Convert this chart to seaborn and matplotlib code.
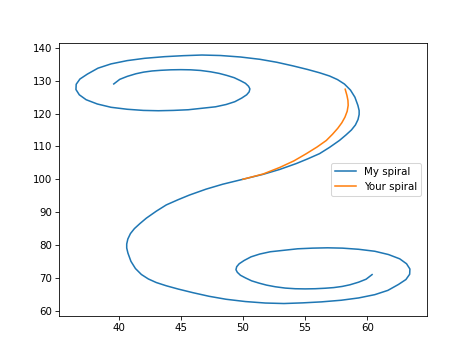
import matplotlib
matplotlib.use("Agg")
import matplotlib.pyplot as plt
import seaborn as sns
import pandas as pd

# "My spiral" points, from the upper inner end to the lower inner end
my_x = [39.62, 40.10, 40.70, 41.40, 42.02, 42.70, 43.40, 44.20, 45.00, 45.80, 46.60, 47.40,
        48.10, 48.70, 49.30, 49.80, 50.20, 50.45, 50.56, 50.50, 50.30, 49.90, 49.35, 48.65,
        47.80, 46.70, 45.60, 44.40, 43.20, 42.00, 40.70, 39.40, 38.30, 37.40, 36.85, 36.58,
        36.60, 36.90, 37.50, 38.35, 39.40, 40.70, 42.10, 43.70, 45.20, 46.70, 48.20, 49.80,
        51.36, 52.72, 54.02, 55.20, 56.16,
        56.96, 57.60, 58.16, 58.64, 59.00, 59.24, 59.34, 59.34, 59.25, 59.04, 58.72, 58.28, 57.76,
        56.96, 56.16, 55.20, 54.30, 52.96, 51.62, 50.00,
        48.38, 47.04, 45.70, 44.80, 43.84, 43.04,
        42.24, 41.72, 41.28, 40.96, 40.75, 40.66, 40.66, 40.76, 41.00, 41.36, 41.84, 42.40, 43.04,
        43.84, 44.80, 45.98, 47.28, 48.64, 50.20,
        51.80, 53.30, 54.80, 56.30, 57.90, 59.30, 60.60, 61.65, 62.50, 63.10, 63.40, 63.42,
        63.15, 62.60, 61.70, 60.60, 59.30, 58.00, 56.80, 55.60, 54.40, 53.30, 52.20, 51.35,
        50.65, 50.10, 49.70, 49.50, 49.44, 49.55, 49.80, 50.20, 50.70, 51.30, 51.90, 52.60,
        53.40, 54.20, 55.00, 55.80, 56.60, 57.30, 57.98, 58.60, 59.30, 59.90, 60.38]
my_y = [129.0, 130.4, 131.3, 132.1, 132.6, 132.95, 133.15, 133.3, 133.35, 133.3, 133.1, 132.7,
        132.2, 131.6, 130.9, 130.0, 129.2, 128.3, 127.5, 126.6, 125.7, 124.7, 123.6, 122.75,
        122.05, 121.6, 121.15, 120.95, 120.85, 120.95, 121.3, 121.9, 122.9, 124.2, 125.7, 127.3,
        128.9, 130.5, 132.0, 133.8, 135.1, 136.1, 136.8, 137.3, 137.6, 137.8, 137.65, 137.2,
        136.5, 135.6, 134.5, 133.4, 132.4,
        131.42, 130.33, 128.97, 127.15, 124.97, 122.48, 120.91, 119.70, 118.18, 116.52, 115.0, 113.48, 111.82,
        109.7, 107.8, 106.2, 104.8, 103.0, 101.5, 100.0,
        98.5, 97.0, 95.2, 93.8, 92.2, 90.3,
        88.18, 86.52, 85.0, 83.48, 81.82, 80.30, 79.09, 77.52, 75.03, 72.85, 71.03, 69.67, 68.58,
        67.6, 66.6, 65.5, 64.4, 63.5, 62.8,
        62.35, 62.2, 62.4, 62.7, 63.2, 63.9, 64.9, 66.2, 68.0, 69.5, 71.1, 72.7,
        74.3, 75.8, 77.1, 78.1, 78.7, 79.05, 79.15, 79.05, 78.85, 78.4, 77.95, 77.25,
        76.4, 75.3, 74.3, 73.4, 72.5, 71.7, 70.8, 70.0, 69.1, 68.4, 67.8, 67.3,
        66.9, 66.7, 66.65, 66.7, 66.85, 67.05, 67.4, 67.9, 68.7, 69.6, 71.0]

# "Your spiral" points, from the centre outward
your_x = [50.00, 51.62, 52.96, 54.10, 55.10, 55.95, 56.70, 57.20, 57.62, 57.95, 58.20, 58.38,
          58.46, 58.44, 58.36, 58.22]
your_y = [100.0, 101.6, 103.6, 105.6, 107.8, 109.8, 111.8, 113.7, 115.5, 117.2, 118.9, 120.7,
          122.5, 124.0, 125.5, 127.4]

labels = ["My spiral", "Your spiral"]
colors = ["#1f77b4", "#ff7f0e"]

dpi = 474 / 6.4
fig, ax = plt.subplots(figsize=(6.4, 355 / dpi), dpi=dpi)

df_my = pd.DataFrame({"x": my_x, "y": my_y})
df_your = pd.DataFrame({"x": your_x, "y": your_y})

sns.lineplot(data=df_my, x="x", y="y", sort=False, estimator=None, ax=ax,
             color=colors[0], label=labels[0], linewidth=1.5)
sns.lineplot(data=df_your, x="x", y="y", sort=False, estimator=None, ax=ax,
             color=colors[1], label=labels[1], linewidth=1.5)

ax.set_xlabel("")
ax.set_ylabel("")
ax.set_xticks([40, 45, 50, 55, 60])
ax.set_yticks([60, 70, 80, 90, 100, 110, 120, 130, 140])
ax.legend(loc="center right")

fig.savefig("out.png", dpi=dpi)
